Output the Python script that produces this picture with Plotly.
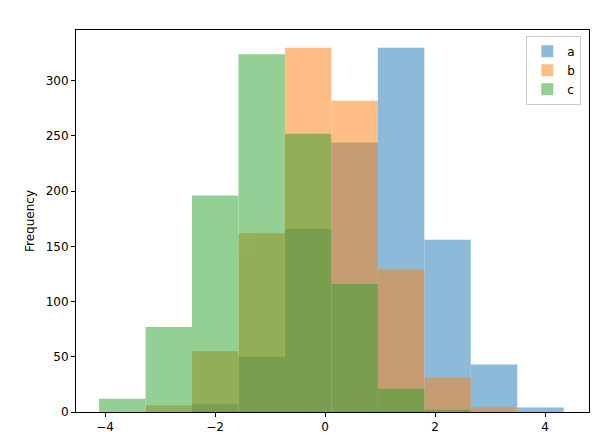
import plotly.graph_objects as go

bin_edges = [-4.11, -3.265, -2.42, -1.575, -0.73, 0.115, 0.96, 1.805, 2.65, 3.495, 4.34]
a_counts = [0, 0, 7, 50, 166, 244, 330, 156, 43, 4]
b_counts = [0, 6, 55, 162, 330, 282, 129, 31, 4, 0]
c_counts = [12, 77, 196, 324, 252, 116, 21, 2, 0, 0]
series = [("a", a_counts, "#1f77b4"), ("b", b_counts, "#ff7f0e"), ("c", c_counts, "#2ca02c")]

centers = [(bin_edges[i] + bin_edges[i + 1]) / 2 for i in range(len(bin_edges) - 1)]
widths = [bin_edges[i + 1] - bin_edges[i] for i in range(len(bin_edges) - 1)]

fig = go.Figure()
for name, counts, color in series:
    fig.add_trace(go.Bar(x=centers, y=counts, width=widths, name=name,
                         marker=dict(color=color, line=dict(width=0)), opacity=0.5))

axis_common = dict(showline=True, mirror=True, linecolor="black", linewidth=1,
                   ticks="outside", ticklen=4, tickcolor="black", showgrid=False, zeroline=False,
                   tickfont=dict(size=12, color="black"))
fig.update_layout(
    barmode="overlay", width=606, height=441,
    margin=dict(l=68, r=25, t=22, b=37),
    plot_bgcolor="white", paper_bgcolor="white",
    font=dict(family="DejaVu Sans", size=12, color="black"),
    xaxis=dict(range=[-4.53, 4.8], tickvals=[-4, -2, 0, 2, 4],
               ticktext=["\u22124", "\u22122", "0", "2", "4"], **axis_common),
    yaxis=dict(range=[0, 346], tickvals=[0, 50, 100, 150, 200, 250, 300],
               title=dict(text="Frequency", font=dict(size=12), standoff=8), **axis_common),
    legend=dict(x=0.985, y=0.985, xanchor="right", yanchor="top",
                bordercolor="#cccccc", borderwidth=1, bgcolor="rgba(255,255,255,0.8)",
                font=dict(size=12)),
)
fig.write_html("out.html")
